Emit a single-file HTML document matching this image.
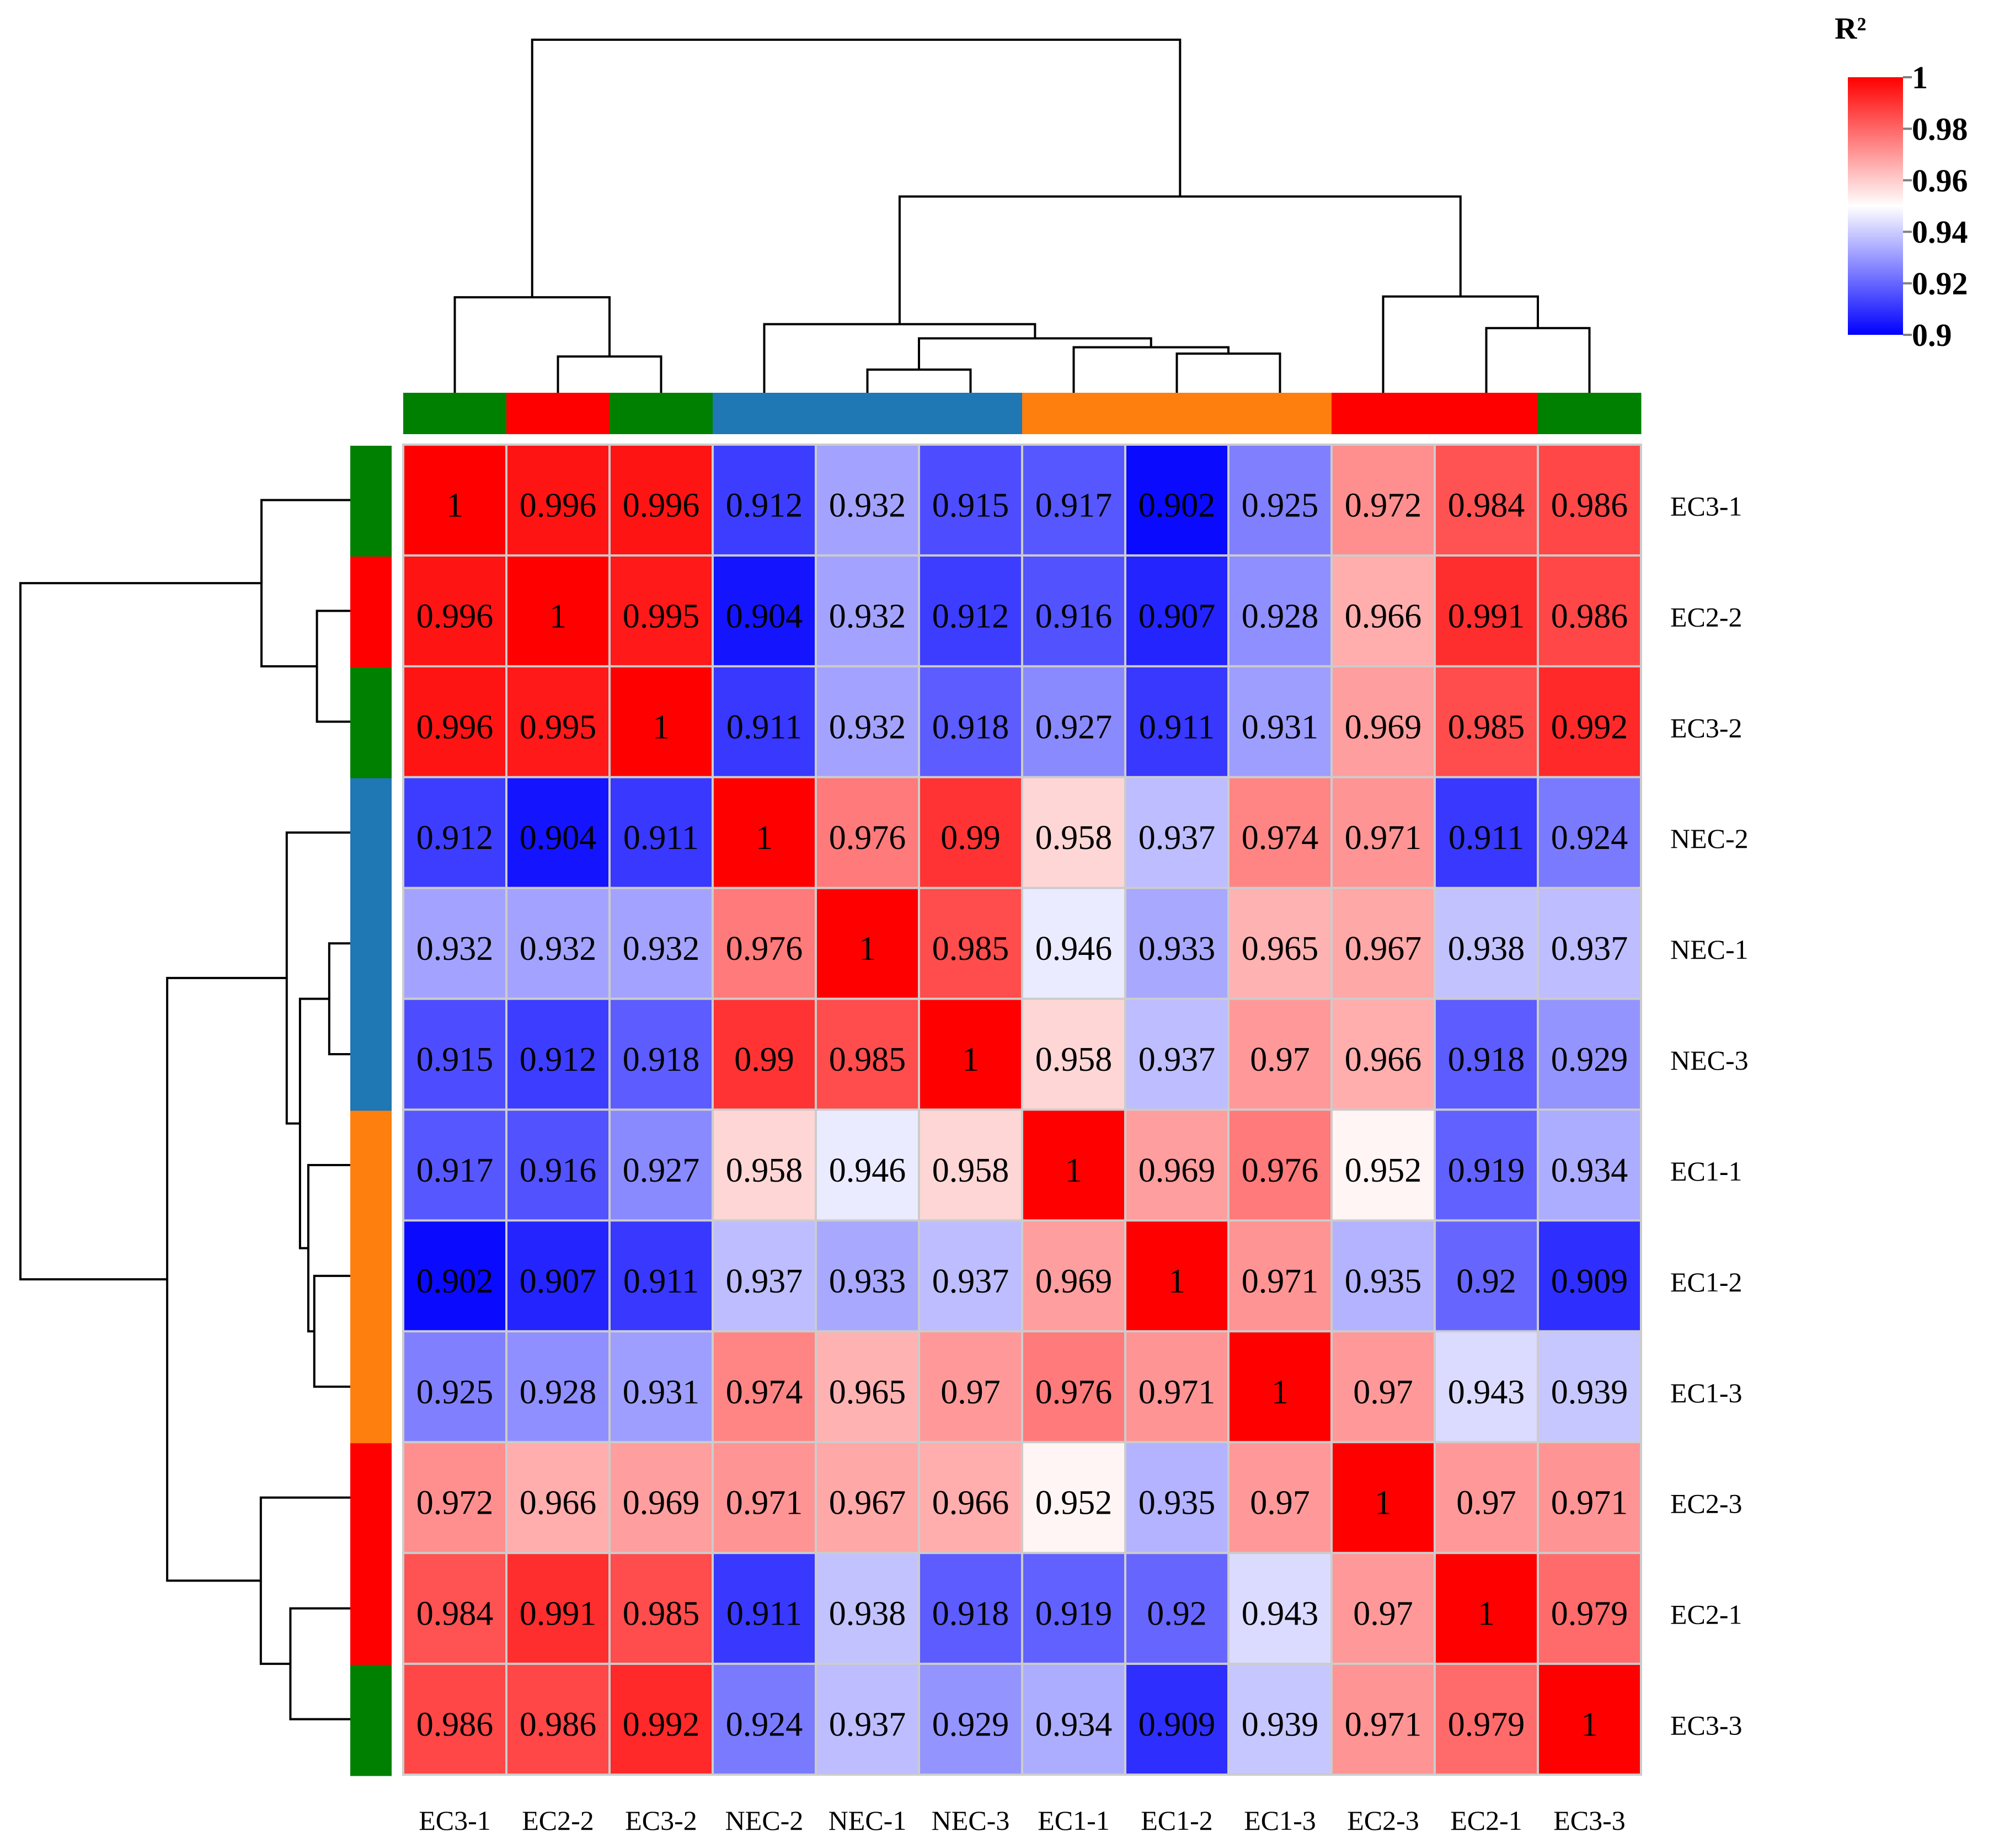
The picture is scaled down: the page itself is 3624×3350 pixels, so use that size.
<!DOCTYPE html>
<html><head><meta charset="utf-8"><style>
html,body{margin:0;padding:0;background:#fff;}
svg{display:block;font-family:"Liberation Serif",serif;}
</style></head><body>
<svg id="chart" width="3624" height="3350" viewBox="0 0 3624 3350" xmlns="http://www.w3.org/2000/svg">
<defs><linearGradient id="cbg" x1="0" y1="1" x2="0" y2="0">
<stop offset="0" stop-color="#0000ff"/><stop offset="0.5" stop-color="#ffffff"/><stop offset="1" stop-color="#ff0000"/></linearGradient></defs>
<g id="heat"></g>
<g id="dendro"></g>
<g id="ann"></g>
<g id="labels"></g>
<g id="cbar">
<text x="3326" y="70" font-size="56" font-weight="bold">R²</text>
<rect x="3350" y="140" width="100" height="467" fill="url(#cbg)"/>
</g>
</svg>
<script>
const labels = ["EC3-1","EC2-2","EC3-2","NEC-2","NEC-1","NEC-3","EC1-1","EC1-2","EC1-3","EC2-3","EC2-1","EC3-3"];
const groupColors = ["#008000","#ff0000","#008000","#1f77b4","#1f77b4","#1f77b4","#ff7f0e","#ff7f0e","#ff7f0e","#ff0000","#ff0000","#008000"];
const row0 = [1,.996,.996,.912,.932,.915,.917,.902,.925,.972,.984,.986];
const row1 = [.996,1,.995,.904,.932,.912,.916,.907,.928,.966,.991,.986];
const row2 = [.996,.995,1,.911,.932,.918,.927,.911,.931,.969,.985,.992];
const row3 = [.912,.904,.911,1,.976,.99,.958,.937,.974,.971,.911,.924];
const row4 = [.932,.932,.932,.976,1,.985,.946,.933,.965,.967,.938,.937];
const row5 = [.915,.912,.918,.99,.985,1,.958,.937,.97,.966,.918,.929];
const row6 = [.917,.916,.927,.958,.946,.958,1,.969,.976,.952,.919,.934];
const row7 = [.902,.907,.911,.937,.933,.937,.969,1,.971,.935,.92,.909];
const row8 = [.925,.928,.931,.974,.965,.97,.976,.971,1,.97,.943,.939];
const row9 = [.972,.966,.969,.971,.967,.966,.952,.935,.97,1,.97,.971];
const row10 = [.984,.991,.985,.911,.938,.918,.919,.92,.943,.97,1,.979];
const row11 = [.986,.986,.992,.924,.937,.929,.934,.909,.939,.971,.979,1];
const matrix = [row0,row1,row2,row3,row4,row5,row6,row7,row8,row9,row10,row11];
// merges: index 12+k refers to merge k
const mergeA = [1,4,7,6,13,3,10,9,17,0,21];
const mergeB = [2,5,8,14,15,16,11,18,19,12,20];
const mergeH = [0.107,0.07,0.115,0.133,0.158,0.198,0.187,0.276,0.558,0.274,1.0];
const cbTicks = [0.9,0.92,0.94,0.96,0.98,1];
const cbLabels = ["0.9","0.92","0.94","0.96","0.98","1"];

const NS="http://www.w3.org/2000/svg";
function mk(tag,attrs,parent){const e=document.createElementNS(NS,tag);for(const k in attrs)e.setAttribute(k,attrs[k]);parent.appendChild(e);return e;}
const X0=731,X1=2975,Y0=806,Y1=3217,n=labels.length;
const cw=(X1-X0)/n, ch=(Y1-Y0)/n;
const cx=i=>X0+cw*(i+0.5), cy=i=>Y0+ch*(i+0.5);
function color(v){
  let r,g,b;
  if(v<0.95){const t=Math.max(0,(v-0.9)/0.05);r=g=Math.round(255*t);b=255;}
  else{const t=Math.min(1,(v-0.95)/0.05);r=255;g=b=Math.round(255*(1-t));}
  return `rgb(${r},${g},${b})`;
}
const heat=document.getElementById('heat');
const bg=mk('rect',{x:X0-2,y:Y0-2,width:X1-X0+4,height:Y1-Y0+4,fill:'#cccccc'},heat);


for(let r=0;r<n;r++)for(let c=0;c<n;c++){
  const v=matrix[r][c];
  const rc=mk('rect',{x:X0+cw*c+2,y:Y0+ch*r+2,width:cw-4,height:ch-4,fill:color(v)},heat);
  
  
  const t=mk('text',{x:cx(c),y:cy(r)+30,'font-size':62,'text-anchor':'middle',fill:'#000'},heat);
  t.textContent=String(v);
  
  
}
const ann=document.getElementById('ann');
for(let i=0;i<n;i++){
  const a=mk('rect',{x:X0+cw*i,y:712,width:cw+0.5,height:75,fill:groupColors[i]},ann);
  
  
  const b=mk('rect',{x:635,y:Y0+2+ch*i,width:75,height:ch+0.5,fill:groupColors[i]},ann);
  
  
}
const lab=document.getElementById('labels');
for(let i=0;i<n;i++){
  const t=mk('text',{x:cx(i),y:3317,'font-size':50,'text-anchor':'middle'},lab);
  t.textContent=labels[i];
  
  
  const t2=mk('text',{x:3028,y:cy(i)+28,'font-size':50},lab);
  t2.textContent=labels[i];
  
  
}
const dg=document.getElementById('dendro');
const topY=h=>715-h*643, leftX=h=>639-h*602;
function drawDendro(posFn,hFn,horizontal,name){
  const pos=[],ht=[];
  for(let i=0;i<n;i++){pos.push(posFn(i));ht.push(0);}
  for(let m=0;m<mergeA.length;m++){
    const a=mergeA[m],b=mergeB[m],h=mergeH[m];
    const pa=pos[a],pb=pos[b],ha=hFn(ht[a]),hb=hFn(ht[b]),hh=hFn(h);
    let d;
    if(horizontal) d=`M${pa},${ha} V${hh} H${pb} V${hb}`;
    else d=`M${ha},${pa} H${hh} V${pb} H${hb}`;
    const p=mk('path',{d:d,fill:'none',stroke:'#000','stroke-width':4},dg);
    
    
    pos.push((pa+pb)/2);ht.push(h);
  }
}
drawDendro(cx,topY,true,'column-dendrogram');
drawDendro(cy,leftX,false,'row-dendrogram');
const cb=document.getElementById('cbar');
const cbY=v=>607-(v-0.9)/0.1*467;
for(let i=0;i<cbTicks.length;i++){
  const y=cbY(cbTicks[i]);
  const l=mk('line',{x1:3450,x2:3466,y1:y,y2:y,stroke:'#808080','stroke-width':4},cb);
  
  
  const t=mk('text',{x:3466,y:y+20,'font-size':58,'font-weight':'bold'},cb);
  t.textContent=cbLabels[i];
  
  
}
</script>
</body></html>
